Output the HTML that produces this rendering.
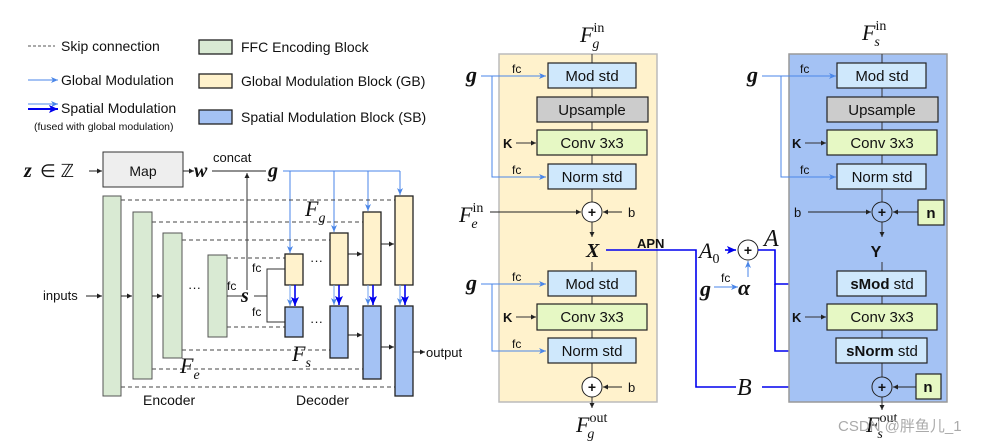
<!DOCTYPE html>
<html><head><meta charset="utf-8"><style>
html,body{margin:0;padding:0;background:#fff}
svg{display:block}
text{font-family:"Liberation Sans",sans-serif;fill:#111}
.m{font-family:"Liberation Serif",serif;font-style:italic}
.u{font-style:normal}
.b{font-weight:bold}
</style></head><body>
<svg width="993" height="442" viewBox="0 0 993 442" xmlns="http://www.w3.org/2000/svg">
<defs>
<marker id="ak" markerWidth="6" markerHeight="6" refX="5" refY="3" orient="auto" markerUnits="userSpaceOnUse"><path d="M0,0.5 L5,3 L0,5.5z" fill="#222"/></marker>
<marker id="al" markerWidth="8" markerHeight="8" refX="7" refY="4" orient="auto" markerUnits="userSpaceOnUse"><path d="M0,1 L7,4 L0,7 L2,4z" fill="#4a86e8"/></marker>
<marker id="ad" markerWidth="10" markerHeight="10" refX="9" refY="5" orient="auto" markerUnits="userSpaceOnUse"><path d="M0,1 L9,5 L0,9 L2,5z" fill="#0000ee"/></marker>
</defs>

<!-- Legend -->
<line x1="28" y1="46" x2="55" y2="46" stroke="#555" stroke-dasharray="3,2"/>
<text x="61" y="51" font-size="14">Skip connection</text>
<line x1="28" y1="80" x2="58" y2="80" stroke="#4a86e8" marker-end="url(#al)"/>
<text x="61" y="85" font-size="14">Global Modulation</text>
<line x1="28" y1="104" x2="58" y2="104" stroke="#6fa0ef" stroke-width="1.2" marker-end="url(#al)"/>
<line x1="28" y1="109" x2="58" y2="109" stroke="#0000ee" stroke-width="2" marker-end="url(#ad)"/>
<text x="61" y="113" font-size="14">Spatial Modulation</text>
<text x="34" y="130" font-size="10.5">(fused with global modulation)</text>
<rect x="199" y="40" width="33" height="14" fill="#d9ead3" stroke="#222" stroke-width="1.3"/>
<text x="241" y="52" font-size="14">FFC Encoding Block</text>
<rect x="199" y="74" width="33" height="14" fill="#fff2cc" stroke="#222" stroke-width="1.3"/>
<text x="241" y="86" font-size="14">Global Modulation Block (GB)</text>
<rect x="199" y="110" width="33" height="14" fill="#a4c2f4" stroke="#222" stroke-width="1.3"/>
<text x="241" y="122" font-size="14">Spatial Modulation Block (SB)</text>

<!-- Left: top row -->
<text x="24" y="177" class="m b" font-size="20">z</text>
<text x="40" y="177" font-size="18" font-family="DejaVu Sans">∈ ℤ</text>
<line x1="89" y1="171" x2="102" y2="171" stroke="#222" marker-end="url(#ak)"/>
<rect x="103" y="152" width="80" height="35" fill="#eee" stroke="#333"/>
<text x="143" y="176" font-size="14" text-anchor="middle">Map</text>
<line x1="183" y1="171" x2="194" y2="171" stroke="#222" marker-end="url(#ak)"/>
<text x="194" y="177" class="m b" font-size="20">w</text>
<line x1="212" y1="171" x2="266" y2="171" stroke="#222"/>
<text x="213" y="162" font-size="13">concat</text>
<text x="268" y="177" class="m b" font-size="20">g</text>
<line x1="247" y1="290" x2="247" y2="173" stroke="#333" marker-end="url(#ak)"/>
<polyline points="283,171 400,171" fill="none" stroke="#4a86e8"/>
<g stroke="#4a86e8" fill="none">
<line x1="290" y1="171" x2="290" y2="253" marker-end="url(#al)"/>
<line x1="334" y1="171" x2="334" y2="232" marker-end="url(#al)"/>
<line x1="368" y1="171" x2="368" y2="211" marker-end="url(#al)"/>
<line x1="400" y1="171" x2="400" y2="195" marker-end="url(#al)"/>
</g>

<!-- dashed skip -->
<g stroke="#444" stroke-dasharray="4,3">
<line x1="121" y1="200" x2="395" y2="200"/>
<line x1="152" y1="222" x2="363" y2="222"/>
<line x1="182" y1="240" x2="330" y2="240"/>
<line x1="227" y1="258" x2="285" y2="258"/>
<line x1="227" y1="327" x2="285" y2="327"/>
<line x1="182" y1="350" x2="330" y2="350"/>
<line x1="152" y1="369" x2="363" y2="369"/>
<line x1="121" y1="387" x2="395" y2="387"/>
</g>

<!-- Encoder -->
<g fill="#d9ead3" stroke="#555">
<rect x="103" y="196" width="18" height="200"/>
<rect x="133" y="212" width="19" height="167"/>
<rect x="163" y="233" width="19" height="125"/>
<rect x="208" y="255" width="19" height="82"/>
</g>
<text x="43" y="300" font-size="13">inputs</text>
<line x1="86" y1="296" x2="102" y2="296" stroke="#222" marker-end="url(#ak)"/>
<line x1="121" y1="296" x2="132" y2="296" stroke="#222" marker-end="url(#ak)"/>
<line x1="152" y1="296" x2="162" y2="296" stroke="#222" marker-end="url(#ak)"/>
<text x="188" y="292" font-size="13">···</text>
<text x="227" y="290" font-size="12">fc</text>
<line x1="227" y1="296" x2="242" y2="296" stroke="#333"/>
<text x="241" y="302" class="m b" font-size="20">s</text>
<line x1="254" y1="296" x2="267" y2="296" stroke="#333"/>
<polyline points="285,269 267,269 267,322 285,322" fill="none" stroke="#333"/>
<text x="252" y="272" font-size="12">fc</text>
<text x="252" y="316" font-size="12">fc</text>

<!-- Decoder -->
<g fill="#fff2cc" stroke="#222" stroke-width="1.3">
<rect x="285" y="254" width="18" height="31"/>
<rect x="330" y="233" width="18" height="52"/>
<rect x="363" y="212" width="18" height="73"/>
<rect x="395" y="196" width="18" height="89"/>
</g>
<g fill="#a4c2f4" stroke="#222" stroke-width="1.3">
<rect x="285" y="307" width="18" height="30"/>
<rect x="330" y="306" width="18" height="52"/>
<rect x="363" y="306" width="18" height="73"/>
<rect x="395" y="306" width="18" height="90"/>
</g>
<g>
<line x1="290" y1="285" x2="290" y2="306" stroke="#6fa0ef" marker-end="url(#al)"/>
<line x1="295" y1="285" x2="295" y2="306" stroke="#0000ee" stroke-width="1.6" marker-end="url(#ad)"/>
<line x1="334" y1="285" x2="334" y2="305" stroke="#6fa0ef" marker-end="url(#al)"/>
<line x1="339" y1="285" x2="339" y2="305" stroke="#0000ee" stroke-width="1.6" marker-end="url(#ad)"/>
<line x1="368" y1="285" x2="368" y2="305" stroke="#6fa0ef" marker-end="url(#al)"/>
<line x1="373" y1="285" x2="373" y2="305" stroke="#0000ee" stroke-width="1.6" marker-end="url(#ad)"/>
<line x1="400" y1="285" x2="400" y2="305" stroke="#6fa0ef" marker-end="url(#al)"/>
<line x1="405" y1="285" x2="405" y2="305" stroke="#0000ee" stroke-width="1.6" marker-end="url(#ad)"/>
</g>
<text x="310" y="265" font-size="13">···</text>
<text x="310" y="326" font-size="13">···</text>
<g stroke="#222">
<line x1="348" y1="254" x2="362" y2="254" marker-end="url(#ak)"/>
<line x1="381" y1="244" x2="394" y2="244" marker-end="url(#ak)"/>
<line x1="348" y1="335" x2="362" y2="335" marker-end="url(#ak)"/>
<line x1="381" y1="347" x2="394" y2="347" marker-end="url(#ak)"/>
<line x1="413" y1="352" x2="425" y2="352" marker-end="url(#ak)"/>
</g>
<text x="426" y="357" font-size="13">output</text>
<text x="305" y="216" class="m" font-size="22">F<tspan font-size="14" dy="6">g</tspan></text>
<text x="180" y="373" class="m" font-size="22">F<tspan font-size="14" dy="6">e</tspan></text>
<text x="292" y="361" class="m" font-size="22">F<tspan font-size="14" dy="6">s</tspan></text>
<text x="143" y="405" font-size="14">Encoder</text>
<text x="296" y="405" font-size="14">Decoder</text>

<!-- Middle GB panel -->
<rect x="499" y="54" width="158" height="348" fill="#fff2cc" stroke="#bbb" stroke-width="1.5"/>
<line x1="592" y1="54" x2="592" y2="202" stroke="#333"/>
<line x1="592" y1="222" x2="592" y2="237" stroke="#333" marker-end="url(#ak)"/>
<line x1="592" y1="262" x2="592" y2="377" stroke="#333"/>
<line x1="592" y1="397" x2="592" y2="408" stroke="#333" marker-end="url(#ak)"/>
<g stroke="#222" stroke-width="1.2">
<rect x="548" y="63" width="88" height="25" fill="#cfe8fc"/>
<rect x="537" y="97" width="111" height="25" fill="#cccccc"/>
<rect x="537" y="130" width="110" height="25" fill="#e6f8c4"/>
<rect x="548" y="164" width="88" height="25" fill="#cfe8fc"/>
<rect x="548" y="271" width="88" height="25" fill="#cfe8fc"/>
<rect x="537" y="304" width="110" height="26" fill="#e6f8c4"/>
<rect x="548" y="338" width="88" height="25" fill="#cfe8fc"/>
</g>
<g font-size="15" text-anchor="middle">
<text x="592" y="81">Mod std</text>
<text x="592" y="115">Upsample</text>
<text x="592" y="148">Conv 3x3</text>
<text x="592" y="182">Norm std</text>
<text x="592" y="289">Mod std</text>
<text x="592" y="322">Conv 3x3</text>
<text x="592" y="356">Norm std</text>
</g>
<circle cx="592" cy="212" r="10" fill="#fff" stroke="#222"/>
<text x="592" y="217" font-size="14" text-anchor="middle" class="b">+</text>
<circle cx="592" cy="387" r="10" fill="#fff" stroke="#222"/>
<text x="592" y="392" font-size="14" text-anchor="middle" class="b">+</text>
<line x1="622" y1="212" x2="603" y2="212" stroke="#222" marker-end="url(#ak)"/>
<text x="628" y="217" font-size="13">b</text>
<line x1="622" y1="387" x2="603" y2="387" stroke="#222" marker-end="url(#ak)"/>
<text x="628" y="392" font-size="13">b</text>
<line x1="490" y1="212" x2="581" y2="212" stroke="#222" marker-end="url(#ak)"/>
<text x="459" y="222" class="m" font-size="22">F<tspan class="u" font-size="14" dy="-10">in</tspan><tspan font-size="14" dx="-12" dy="16">e</tspan></text>
<text x="580" y="42" class="m" font-size="22">F<tspan class="u" font-size="14" dy="-10">in</tspan><tspan font-size="14" dx="-12" dy="16">g</tspan></text>
<text x="576" y="432" class="m" font-size="22">F<tspan class="u" font-size="14" dy="-10">out</tspan><tspan font-size="14" dx="-20" dy="16">g</tspan></text>
<text x="586" y="257" class="m b" font-size="20">X</text>
<g fill="none" stroke="#4a86e8">
<text x="466" y="82" class="m b" font-size="22" stroke="none">g</text>
<line x1="481" y1="76" x2="546" y2="76" marker-end="url(#al)"/>
<polyline points="492,76 492,177 546,177" marker-end="url(#al)"/>
<text x="466" y="290" class="m b" font-size="22" stroke="none">g</text>
<line x1="481" y1="284" x2="546" y2="284" marker-end="url(#al)"/>
<polyline points="492,284 492,351 546,351" marker-end="url(#al)"/>
</g>
<g font-size="12"><text x="512" y="73">fc</text><text x="512" y="174">fc</text><text x="512" y="281">fc</text><text x="512" y="348">fc</text></g>
<text x="503" y="148" font-size="13" class="b">K</text>
<line x1="516" y1="143" x2="536" y2="143" stroke="#333" marker-end="url(#ak)"/>
<text x="503" y="322" font-size="13" class="b">K</text>
<line x1="516" y1="317" x2="536" y2="317" stroke="#333" marker-end="url(#ak)"/>

<!-- APN -->
<text x="637" y="248" font-size="13" class="b">APN</text>
<polyline points="606,250 696,250 696,387 736,387" fill="none" stroke="#0000ee" stroke-width="1.6"/>
<line x1="762" y1="387" x2="870" y2="387" stroke="#0000ee" stroke-width="1.6" marker-end="url(#ad)"/>
<text x="737" y="395" class="m" font-size="24">B</text>
<text x="699" y="258" class="m" font-size="22">A<tspan class="u" font-size="14" dy="5">0</tspan></text>
<line x1="725" y1="250" x2="736" y2="250" stroke="#0000ee" stroke-width="1.6" marker-end="url(#ad)"/>
<circle cx="748" cy="250" r="10" fill="#fff" stroke="#222"/>
<text x="748" y="255" font-size="14" text-anchor="middle" class="b">+</text>
<text x="764" y="246" class="m" font-size="24">A</text>
<polyline points="758,250 775,250 775,284 835,284" fill="none" stroke="#0000ee" stroke-width="1.6" marker-end="url(#ad)"/>
<polyline points="775,284 775,351 834,351" fill="none" stroke="#0000ee" stroke-width="1.6" marker-end="url(#ad)"/>
<text x="700" y="296" class="m b" font-size="22">g</text>
<line x1="714" y1="287" x2="738" y2="287" stroke="#4a86e8" marker-end="url(#al)"/>
<text x="721" y="282" font-size="12">fc</text>
<text x="738" y="295" class="m b" font-size="22">α</text>
<line x1="748" y1="277" x2="748" y2="261" stroke="#4a86e8" marker-end="url(#al)"/>

<!-- Right SB panel -->
<rect x="789" y="54" width="158" height="348" fill="#a4c2f4" stroke="#999" stroke-width="1.5"/>
<line x1="882" y1="54" x2="882" y2="202" stroke="#333"/>
<line x1="882" y1="222" x2="882" y2="237" stroke="#333" marker-end="url(#ak)"/>
<line x1="882" y1="262" x2="882" y2="377" stroke="#333"/>
<line x1="882" y1="397" x2="882" y2="410" stroke="#333" marker-end="url(#ak)"/>
<g stroke="#222" stroke-width="1.2">
<rect x="837" y="63" width="89" height="25" fill="#cfe8fc"/>
<rect x="827" y="97" width="111" height="25" fill="#cccccc"/>
<rect x="827" y="130" width="110" height="25" fill="#e6f8c4"/>
<rect x="837" y="164" width="89" height="25" fill="#cfe8fc"/>
<rect x="837" y="271" width="89" height="25" fill="#cfe8fc"/>
<rect x="827" y="304" width="110" height="26" fill="#e6f8c4"/>
<rect x="836" y="338" width="91" height="25" fill="#cfe8fc"/>
<rect x="918" y="200" width="26" height="25" fill="#e6f8c4"/>
<rect x="916" y="374" width="25" height="25" fill="#e6f8c4"/>
</g>
<g font-size="15" text-anchor="middle">
<text x="882" y="81">Mod std</text>
<text x="882" y="115">Upsample</text>
<text x="882" y="148">Conv 3x3</text>
<text x="882" y="182">Norm std</text>
<text x="882" y="289"><tspan class="b">sMod</tspan> std</text>
<text x="882" y="322">Conv 3x3</text>
<text x="882" y="356"><tspan class="b">sNorm</tspan> std</text>
<text x="931" y="218" class="b">n</text>
<text x="928" y="392" class="b">n</text>
</g>
<circle cx="882" cy="212" r="10" fill="#a4c2f4" stroke="#222"/>
<text x="882" y="217" font-size="14" text-anchor="middle" class="b">+</text>
<circle cx="882" cy="387" r="10" fill="#a4c2f4" stroke="#222"/>
<text x="882" y="392" font-size="14" text-anchor="middle" class="b">+</text>
<line x1="918" y1="212" x2="893" y2="212" stroke="#222" marker-end="url(#ak)"/>
<line x1="916" y1="387" x2="893" y2="387" stroke="#222" marker-end="url(#ak)"/>
<text x="794" y="217" font-size="13">b</text>
<line x1="808" y1="212" x2="871" y2="212" stroke="#222" marker-end="url(#ak)"/>
<text x="876" y="257" font-size="16" class="b" text-anchor="middle">Y</text>
<text x="862" y="40" class="m" font-size="22">F<tspan class="u" font-size="14" dy="-10">in</tspan><tspan font-size="14" dx="-12" dy="16">s</tspan></text>
<text x="866" y="432" class="m" font-size="22">F<tspan class="u" font-size="14" dy="-10">out</tspan><tspan font-size="14" dx="-20" dy="16">s</tspan></text>
<g fill="none" stroke="#4a86e8">
<text x="747" y="82" class="m b" font-size="22" stroke="none">g</text>
<line x1="762" y1="76" x2="836" y2="76" marker-end="url(#al)"/>
<polyline points="781,76 781,177 836,177" marker-end="url(#al)"/>
</g>
<g font-size="12"><text x="800" y="73">fc</text><text x="800" y="174">fc</text></g>
<text x="792" y="148" font-size="13" class="b">K</text>
<line x1="805" y1="143" x2="826" y2="143" stroke="#333" marker-end="url(#ak)"/>
<text x="792" y="322" font-size="13" class="b">K</text>
<line x1="805" y1="317" x2="826" y2="317" stroke="#333" marker-end="url(#ak)"/>

<text x="838" y="431" font-size="15" style="fill:#aaa;font-family:'Liberation Sans','Noto Sans CJK SC',sans-serif">CSDN @胖鱼儿_1</text>
</svg>
</body></html>
